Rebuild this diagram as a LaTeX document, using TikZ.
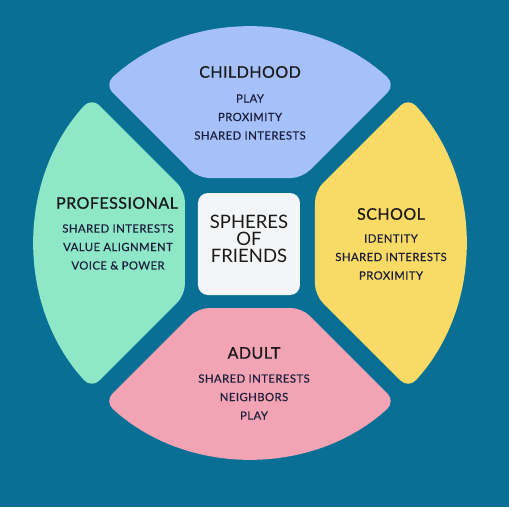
\documentclass[tikz,border=0pt]{standalone}
\usepackage{fontspec}
\setmainfont{Lato}
\newfontfamily\titlefont[LetterSpace=3,FakeBold=0.8]{Lato}
\newfontfamily\itemfont[LetterSpace=4,FakeBold=0.4]{Lato}
\definecolor{spherebg}{HTML}{0A6F95}
\definecolor{childhoodfill}{HTML}{A6C1FA}
\definecolor{professionalfill}{HTML}{8EE8C8}
\definecolor{adultfill}{HTML}{F2A3B4}
\definecolor{schoolfill}{HTML}{F9DA64}
\definecolor{hubfill}{HTML}{F4F5F6}
\definecolor{itemtext}{HTML}{1B1F3B}

\begin{document}
\begin{tikzpicture}[
  x=1pt,
  y=1pt,
  line join=round,
  petal/.style={draw=none,rounded corners=11pt},
  hub/.style={fill=hubfill,rounded corners=10pt},
  title/.style={inner sep=0pt,text=black!90,font=\titlefont\fontsize{16}{18}\selectfont},
  items/.style={inner sep=0pt,align=center,text=itemtext,font=\itemfont\fontsize{11.3}{18.5}\selectfont},
  hubtext/.style={inner sep=0pt,align=center,text=black!90,font=\fontsize{18.5}{17}\selectfont}
]
  % Background, the circle centre sits at the origin.
  \fill[spherebg] (-250,-264) rectangle (259,243);
  \useasboundingbox (-250,-264) rectangle (259,243);

  % Four petals cut from one disc by the diagonal gaps and the central square.
  \foreach \ang/\col in {0/childhoodfill,90/professionalfill,180/adultfill,270/schoolfill} {
    \fill[petal,\col,rotate=\ang] (52,65) -- (145.4,158.4)
      arc[start angle=47.45,end angle=132.55,radius=215] -- (-52,65) -- cycle;
  }

  % Central square.
  \fill[hub] (-52,-52) rectangle (50,50);
  \node[hubtext] (hub) at (-1,4) {SPHERES\\OF\\FRIENDS};

  % Petal texts.
  \node[title] (childhood) at (0,171) {CHILDHOOD};
  \node[items] (childhood-items) at (0,126) {PLAY\\PROXIMITY\\SHARED INTERESTS};

  \node[title] (professional) at (-133,40) {PROFESSIONAL};
  \node[items] (professional-items) at (-132,-4) {SHARED INTERESTS\\VALUE ALIGNMENT\\VOICE \& POWER};

  \node[title] (school) at (141,29) {SCHOOL};
  \node[items] (school-items) at (141,-14) {IDENTITY\\SHARED INTERESTS\\PROXIMITY};

  \node[title] (adult) at (4,-110) {ADULT};
  \node[items] (adult-items) at (4,-154) {SHARED INTERESTS\\NEIGHBORS\\PLAY};
\end{tikzpicture}
\end{document}
